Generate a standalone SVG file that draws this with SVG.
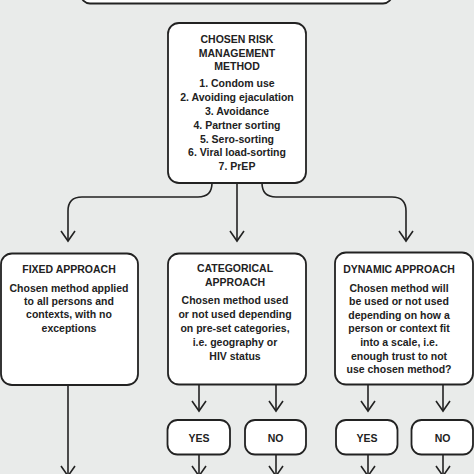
<svg xmlns="http://www.w3.org/2000/svg" width="474" height="474" viewBox="0 0 474 474">
<defs>
<style>
.box{fill:#fff;stroke:#222;stroke-width:1.8}
.ln{fill:none;stroke:#222;stroke-width:1.6}
text{font-family:"Liberation Sans",Arial,sans-serif;font-weight:bold;font-size:10.5px;fill:#222;text-anchor:middle;dominant-baseline:central}
</style>
</defs>
<rect width="474" height="474" fill="#e9ebea"/>
<g id="connectors">
<path class="ln" d="M237,183 V241"/>
<path class="ln" d="M212,183 Q212,197 198,197 H82 Q68,197 68,211 V241"/>
<path class="ln" d="M262,183 Q262,197 276,197 H392 Q406,197 406,211 V241"/>
<path class="ln" d="M68,385 V474"/>
<path class="ln" d="M199,384 V411"/>
<path class="ln" d="M276,384 V411"/>
<path class="ln" d="M368,384 V411"/>
<path class="ln" d="M443,384 V411"/>
<path class="ln" d="M199,454 V474"/>
<path class="ln" d="M276,454 V474"/>
<path class="ln" d="M368,454 V474"/>
<path class="ln" d="M443,454 V474"/>
<g class="ln">
<path d="M230,231 L237,241 L244,231"/>
<path d="M61,231 L68,241 L75,231"/>
<path d="M399,231 L406,241 L413,231"/>
<path d="M192,401 L199,411 L206,401"/>
<path d="M269,401 L276,411 L283,401"/>
<path d="M361,401 L368,411 L375,401"/>
<path d="M436,401 L443,411 L450,401"/>
<path d="M61,466 L68,476 L75,466"/>
<path d="M192,466 L199,476 L206,466"/>
<path d="M269,466 L276,476 L283,466"/>
<path d="M361,466 L368,476 L375,466"/>
<path d="M436,466 L443,476 L450,466"/>
</g>
</g>
<g id="top">
<rect class="box" x="81" y="-20" width="311" height="23.5" rx="9"/>
</g>
<g id="method">
<rect class="box" x="168" y="23" width="138" height="160" rx="11"/>
<text x="237" y="39">CHOSEN RISK</text>
<text x="237" y="52.5">MANAGEMENT</text>
<text x="237" y="66">METHOD</text>
<text x="237" y="83.3">1. Condom use</text>
<text x="237" y="97.2">2. Avoiding ejaculation</text>
<text x="237" y="111">3. Avoidance</text>
<text x="237" y="125">4. Partner sorting</text>
<text x="237" y="138.7">5. Sero-sorting</text>
<text x="237" y="152.4">6. Viral load-sorting</text>
<text x="237" y="166">7. PrEP</text>
</g>
<g id="fixed">
<rect class="box" x="1" y="253.5" width="137" height="131.5" rx="11"/>
<text x="69" y="269">FIXED APPROACH</text>
<text x="69" y="287.7">Chosen method applied</text>
<text x="69" y="301">to all persons and</text>
<text x="69" y="314.3">contexts, with no</text>
<text x="69" y="327.7">exceptions</text>
</g>
<g id="categorical">
<rect class="box" x="168" y="253.5" width="138" height="131" rx="11"/>
<text x="235" y="268.3">CATEGORICAL</text>
<text x="235" y="281.7">APPROACH</text>
<text x="235" y="300">Chosen method used</text>
<text x="235" y="314.3">or not used depending</text>
<text x="235" y="328.3">on pre-set categories,</text>
<text x="235" y="342">i.e. geography or</text>
<text x="235" y="355.5">HIV status</text>
</g>
<g id="dynamic">
<rect class="box" x="335" y="252.5" width="138" height="132" rx="11"/>
<text x="399" y="269">DYNAMIC APPROACH</text>
<text x="399" y="287.7">Chosen method will</text>
<text x="399" y="301">be used or not used</text>
<text x="399" y="315">depending on how a</text>
<text x="399" y="328.3">person or context fit</text>
<text x="399" y="342.3">into a scale, i.e.</text>
<text x="399" y="355.7">enough trust to not</text>
<text x="399" y="369">use chosen method?</text>
</g>
<g id="cat-yes">
<rect class="box" x="167.5" y="420" width="62.5" height="34.5" rx="10"/>
<text x="199" y="437.5">YES</text>
</g>
<g id="cat-no">
<rect class="box" x="245" y="420" width="61" height="34.5" rx="10"/>
<text x="275.5" y="437.5">NO</text>
</g>
<g id="dyn-yes">
<rect class="box" x="336" y="420" width="61.5" height="34.5" rx="10"/>
<text x="367" y="437.5">YES</text>
</g>
<g id="dyn-no">
<rect class="box" x="411.5" y="420" width="61.5" height="34.5" rx="10"/>
<text x="442.5" y="437.5">NO</text>
</g>
</svg>
